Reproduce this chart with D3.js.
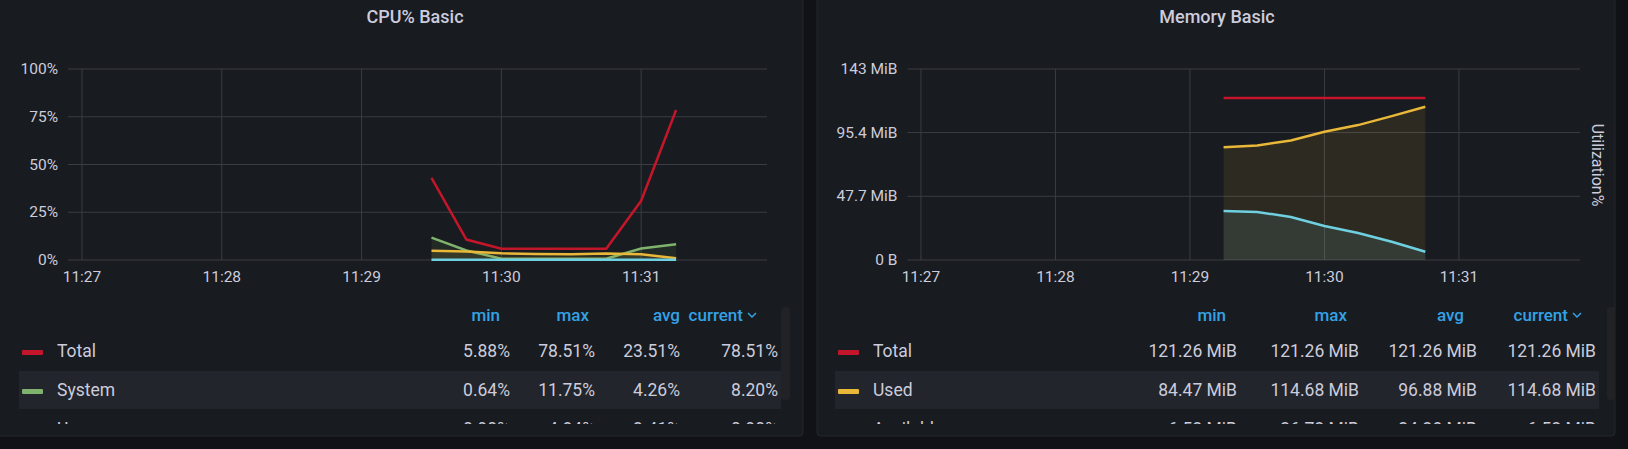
<!DOCTYPE html>
<html><head><meta charset="utf-8">
<script src="https://cdn.jsdelivr.net/npm/d3@7"></script>
<style>
body{margin:0;background:#111217;font-family:Roboto,"Noto Sans",sans-serif;}
svg{display:block}
</style></head><body>
<svg id="c" width="1628" height="449"></svg>
<script>
// CPU panel data (15 s samples from 11:29:30)
const cpuTimes = ["11:29:30","11:29:45","11:30:00","11:30:15","11:30:30","11:30:45","11:31:00","11:31:15"];
const cpuTotal  = [43, 10.7, 5.9, 5.9, 5.9, 5.9, 31, 78.51];
const cpuSystem = [11.75, 5, 0.7, 0.64, 0.64, 0.7, 6, 8.2];
const cpuUser   = [4.8, 4.5, 3.5, 3.1, 3.0, 3.4, 3.0, 0.9];
const cpuIowait = [0.1, 0.1, 0.1, 0.1, 0.1, 0.1, 0.1, 0.1];
const cpuTicks = [0, 25, 50, 75, 100];
const cpuLegend = [
  ["Total", "5.88%", "78.51%", "23.51%", "78.51%"],
  ["System", "0.64%", "11.75%", "4.26%", "8.20%"],
  ["User", "0.90%", "4.84%", "3.41%", "0.90%"]
];

// Memory panel data (15 s samples from 11:29:15)
const memTimes = ["11:29:15","11:29:30","11:29:45","11:30:00","11:30:15","11:30:30","11:30:45"];
const memTotal = [121.26, 121.26, 121.26, 121.26, 121.26, 121.26, 121.26];
const memUsed  = [84.47, 85.7, 89.5, 96, 101, 107.7, 114.68];
const memAvail = [36.7, 36, 32.2, 25.5, 20.2, 13.7, 6.2];
const memTicks = [0, 47.7, 95.4, 143];
const memTickLabels = ["0 B", "47.7 MiB", "95.4 MiB", "143 MiB"];
const memLegend = [
  ["Total", "121.26 MiB", "121.26 MiB", "121.26 MiB", "121.26 MiB"],
  ["Used", "84.47 MiB", "114.68 MiB", "96.88 MiB", "114.68 MiB"],
  ["Available", "6.53 MiB", "36.73 MiB", "24.38 MiB", "6.53 MiB"]
];

const xTicks = ["11:27","11:28","11:29","11:30","11:31"];
const colors = {red:"#c4162a", green:"#7eb26d", yellow:"#eab839", cyan:"#6ed0e0"};
const parse = d3.timeParse("%H:%M:%S");
const parseHM = d3.timeParse("%H:%M");

const svg = d3.select("#c");
const txt = "#ccccdc";

function panel(o) {
  const g = svg.append("g");
  g.append("rect").attr("x", o.px).attr("y", -4).attr("width", o.pw).attr("height", 440)
    .attr("rx", 3).attr("fill", "#181b1f").attr("stroke", "#24272e");
  g.append("text").attr("x", o.tx).attr("y", 23).attr("text-anchor", "middle")
    .attr("fill", txt).attr("font-size", 18).attr("font-weight", 500).text(o.title);

  const x = d3.scaleTime().domain([parse("11:26:54"), parse("11:31:54")]).range([o.x0, o.x1]);
  const y = d3.scaleLinear().domain(o.ydom).range([260, 69]);

  // grid
  g.selectAll(".hg").data(o.yticks).enter().append("line")
    .attr("x1", o.x0).attr("x2", o.x1).attr("y1", d => y(d)).attr("y2", d => y(d))
    .attr("stroke", "#3a3d44").attr("stroke-width", 1);
  g.selectAll(".vg").data(xTicks).enter().append("line")
    .attr("x1", d => x(parseHM(d))).attr("x2", d => x(parseHM(d)))
    .attr("y1", 69).attr("y2", 260).attr("stroke", "#3a3d44");

  g.selectAll(".yl").data(o.yticks).enter().append("text")
    .attr("x", o.x0 - 10).attr("y", d => y(d) + 5).attr("text-anchor", "end")
    .attr("fill", txt).attr("font-size", 15.5).text((d, i) => o.ylabels[i]);
  g.selectAll(".xl").data(xTicks).enter().append("text")
    .attr("x", d => x(parseHM(d))).attr("y", 282).attr("text-anchor", "middle")
    .attr("fill", txt).attr("font-size", 15.5).text(d => d);

  // series
  o.series.forEach(s => {
    const pts = s.values.map((v, i) => [x(parse(o.times[i])), y(v)]);
    if (s.fill) {
      g.append("path").attr("d", d3.area().x(d => d[0]).y0(y(0)).y1(d => d[1])(pts))
        .attr("fill", s.color).attr("opacity", 0.1);
    }
    g.append("path").attr("d", d3.line()(pts)).attr("fill", "none")
      .attr("stroke", s.color).attr("stroke-width", 2.5);
  });

  // legend (clipped)
  const clipId = "clip" + Math.round(o.px);
  svg.append("clipPath").attr("id", clipId).append("rect")
    .attr("x", o.px).attr("y", 290).attr("width", o.pw).attr("height", 134);
  const lg = g.append("g").attr("clip-path", `url(#${clipId})`);
  ["min", "max", "avg", "current"].forEach((h, i) => {
    lg.append("text").attr("x", o.hx[i]).attr("y", 321).attr("text-anchor", "end")
      .attr("fill", "#33a2e5").attr("font-size", 17).attr("font-weight", 500).text(h);
  });
  lg.append("path").attr("d", `M${o.hx[3] + 5},313 l4,4 l4,-4`).attr("fill", "none")
    .attr("stroke", "#33a2e5").attr("stroke-width", 1.5);
  lg.append("rect").attr("x", o.bandX).attr("y", 371).attr("width", o.bandW).attr("height", 38)
    .attr("fill", "#22252b");
  lg.append("rect").attr("x", o.scrollX).attr("y", 307).attr("width", 9).attr("height", 93)
    .attr("rx", 4).attr("fill", "#202226");
  o.legend.forEach((row, r) => {
    const yy = 357 + r * 39;
    lg.append("rect").attr("x", o.mx).attr("y", yy - 7).attr("width", 21).attr("height", 5)
      .attr("rx", 1).attr("fill", o.series[r].color);
    lg.append("text").attr("x", o.mx + 35).attr("y", yy).attr("fill", txt)
      .attr("font-size", 17.5).text(row[0]);
    row.slice(1).forEach((v, i) => {
      lg.append("text").attr("x", o.vx[i]).attr("y", yy).attr("text-anchor", "end")
        .attr("fill", txt).attr("font-size", 17.5).text(v);
    });
  });
  return g;
}

panel({
  px: -3, pw: 806, tx: 415, title: "CPU% Basic", x0: 68, x1: 767,
  ydom: [0, 100], yticks: cpuTicks, ylabels: cpuTicks.map(d => d + "%"),
  times: cpuTimes,
  series: [
    {values: cpuTotal, color: colors.red},
    {values: cpuSystem, color: colors.green, fill: true},
    {values: cpuUser, color: colors.yellow, fill: true},
    {values: cpuIowait, color: colors.cyan, fill: true}
  ],
  legend: cpuLegend,
  hx: [500, 589, 680, 743], vx: [510, 595, 680, 778],
  mx: 22, bandX: 19, bandW: 762, scrollX: 781
});

const mp = panel({
  px: 817, pw: 798, tx: 1217, title: "Memory Basic", x0: 907.5, x1: 1580,
  ydom: [0, 143], yticks: memTicks, ylabels: memTickLabels,
  times: memTimes,
  series: [
    {values: memTotal, color: colors.red},
    {values: memUsed, color: colors.yellow, fill: true},
    {values: memAvail, color: colors.cyan, fill: true}
  ],
  legend: memLegend,
  hx: [1226, 1347, 1464, 1568], vx: [1237, 1359, 1477, 1596],
  mx: 838, bandX: 835, bandW: 764, scrollX: 1607
});
mp.append("text").attr("transform", "translate(1592,165) rotate(90)")
  .attr("text-anchor", "middle").attr("fill", txt).attr("font-size", 16).text("Utilization%");
</script></body></html>
